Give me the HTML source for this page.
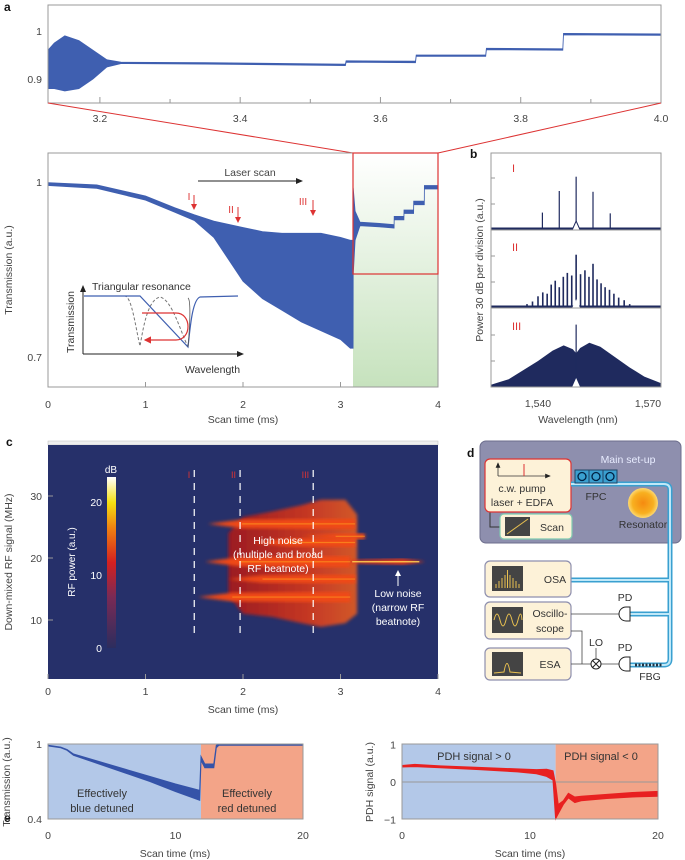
<!DOCTYPE html>
<html><head><meta charset="utf-8">
<style>
html,body{margin:0;padding:0;background:#fff;}
svg{display:block;font-family:"Liberation Sans",sans-serif;}
.t{font-size:10.5px;fill:#444;}
.ax{fill:none;stroke:#999;stroke-width:1;}
.pl{font-size:12px;font-weight:bold;fill:#111;}
</style></head>
<body>
<svg id="fig" width="685" height="860" viewBox="0 0 685 860" xmlns="http://www.w3.org/2000/svg">
<defs>
<linearGradient id="greenGrad" x1="0" y1="0" x2="0" y2="1"><stop offset="0" stop-color="#ffffff"/><stop offset="1" stop-color="#c6e2bd"/></linearGradient>
<linearGradient id="cbarGrad" x1="0" y1="1" x2="0" y2="0"><stop offset="0" stop-color="#2c2d5e"/><stop offset="0.3" stop-color="#7a2a55"/><stop offset="0.5" stop-color="#d42020"/><stop offset="0.7" stop-color="#f08010"/><stop offset="0.85" stop-color="#f5e010"/><stop offset="1" stop-color="#ffffff"/></linearGradient>
<linearGradient id="heatGrad" x1="0" y1="0" x2="1" y2="0"><stop offset="0" stop-color="#b01818"/><stop offset="0.6" stop-color="#e03818"/><stop offset="1" stop-color="#f06020"/></linearGradient>
<radialGradient id="resGrad"><stop offset="0" stop-color="#f58a10"/><stop offset="0.7" stop-color="#f8b020"/><stop offset="1" stop-color="#fdd870"/></radialGradient>
<filter id="blur"><feGaussianBlur stdDeviation="1.5"/></filter>
<marker id="arrK" markerWidth="8" markerHeight="8" refX="6" refY="3" orient="auto"><path d="M0,0 L7,3 L0,6z" fill="#222"/></marker>
<marker id="arrR" markerWidth="8" markerHeight="8" refX="5" refY="3" orient="auto"><path d="M0,0 L6,3 L0,6z" fill="#d33"/></marker>
<marker id="arrW" markerWidth="8" markerHeight="8" refX="5" refY="3" orient="auto"><path d="M0,0 L6,3 L0,6z" fill="#fff"/></marker>
</defs>

<!-- Panel a top -->
<text class="pl" x="4" y="11">a</text>
<g id="aTop"></g>
<rect class="ax" x="48" y="5" width="613" height="98"/>
<text class="t" x="42" y="35" text-anchor="end">1</text>
<text class="t" x="42" y="83" text-anchor="end">0.9</text>
<g id="aTopTicks"></g>
<line x1="48" y1="103" x2="353" y2="153" stroke="#d33" stroke-width="1"/>
<line x1="661" y1="103" x2="438" y2="153" stroke="#d33" stroke-width="1"/>

<!-- Panel a main -->
<rect x="353" y="153" width="85" height="234" fill="url(#greenGrad)"/>
<g id="aMain"></g>
<rect class="ax" x="48" y="153" width="390" height="234"/>
<rect x="353" y="153" width="85" height="121" fill="none" stroke="#d33" stroke-width="1.2"/>
<text class="t" x="42" y="186" text-anchor="end">1</text>
<text class="t" x="42" y="361" text-anchor="end">0.7</text>
<g id="aMainTicks"></g>
<text class="t" x="243" y="423" text-anchor="middle">Scan time (ms)</text>
<text class="t" transform="translate(12,270) rotate(-90)" text-anchor="middle">Transmission (a.u.)</text>
<text class="t" x="250" y="176" text-anchor="middle">Laser scan</text>
<line x1="198" y1="181" x2="302" y2="181" stroke="#222" stroke-width="1" marker-end="url(#arrK)"/>
<g><text x="189" y="200" font-size="10" fill="#d33" text-anchor="middle">I</text><line x1="194" y1="195" x2="194" y2="209" stroke="#d33" marker-end="url(#arrR)"/></g>
<g><text x="231" y="213" font-size="10" fill="#d33" text-anchor="middle">II</text><line x1="238" y1="207" x2="238" y2="222" stroke="#d33" marker-end="url(#arrR)"/></g>
<g><text x="303" y="205" font-size="10" fill="#d33" text-anchor="middle">III</text><line x1="313" y1="200" x2="313" y2="215" stroke="#d33" marker-end="url(#arrR)"/></g>
<!-- inset -->
<g>
<text x="92" y="290" font-size="10.5" fill="#333">Triangular resonance</text>
<line x1="83" y1="354" x2="243" y2="354" stroke="#222" marker-end="url(#arrK)"/>
<line x1="83" y1="354" x2="83" y2="286" stroke="#222" marker-end="url(#arrK)"/>
<text x="185" y="373" font-size="10.5" fill="#333">Wavelength</text>
<text transform="translate(74,322) rotate(-90)" font-size="10.5" fill="#333" text-anchor="middle">Transmission</text>
<path d="M84,296 L125,296 C132,297 136,330 140,346 C143,330 147,300 160,297 C172,300 180,330 188,347" fill="none" stroke="#777" stroke-dasharray="3,2" stroke-width="1"/>
<path d="M84,296 L140,296 L188,347 C190,330 192,300 200,297 L238,296" fill="none" stroke="#3f5fb0" stroke-width="1.2"/>
<path d="M188,347 C190,325 191,300 188,298" fill="none" stroke="#555" stroke-width="0.8"/>
<path d="M142,313 L176,313 C192,313 192,340 176,340 L145,340" fill="none" stroke="#d33" stroke-width="1.2" marker-end="url(#arrR)"/>
</g>

<!-- Panel b -->
<text class="pl" x="470" y="158">b</text>
<g id="bPlot"></g>
<rect class="ax" x="491" y="153" width="170" height="234"/>
<line x1="491" y1="230" x2="661" y2="230" stroke="#999"/>
<line x1="491" y1="308" x2="661" y2="308" stroke="#999"/>
<text x="512" y="172" font-size="11" fill="#d33">I</text>
<text x="512" y="251" font-size="11" fill="#d33">II</text>
<text x="512" y="330" font-size="11" fill="#d33">III</text>
<text class="t" x="538" y="407" text-anchor="middle">1,540</text>
<text class="t" x="648" y="407" text-anchor="middle">1,570</text>
<text class="t" x="578" y="423" text-anchor="middle">Wavelength (nm)</text>
<text class="t" transform="translate(483,270) rotate(-90)" text-anchor="middle">Power 30 dB per division (a.u.)</text>

<!-- Panel c -->
<text class="pl" x="6" y="446">c</text>
<rect x="48" y="441" width="390" height="4" fill="#eee" stroke="#bbb" stroke-width="0.5"/>
<rect x="48" y="445" width="390" height="234" fill="#26306a"/>
<g id="cPlot"></g>
<g id="cTicks"></g>
<text class="t" x="243" y="713" text-anchor="middle">Scan time (ms)</text>
<text class="t" transform="translate(12,562) rotate(-90)" text-anchor="middle">Down-mixed RF signal (MHz)</text>
<rect x="107" y="477" width="9" height="171" fill="url(#cbarGrad)"/>
<text x="111" y="473" font-size="10" fill="#fff" text-anchor="middle">dB</text>
<text x="102" y="506" font-size="10.5" fill="#fff" text-anchor="end">20</text>
<text x="102" y="579" font-size="10.5" fill="#fff" text-anchor="end">10</text>
<text x="102" y="652" font-size="10.5" fill="#fff" text-anchor="end">0</text>
<text transform="translate(75,562) rotate(-90)" font-size="10" fill="#fff" text-anchor="middle">RF power (a.u.)</text>
<g font-size="10.5" fill="#fff" text-anchor="middle">
<text x="278" y="544">High noise</text><text x="278" y="558">(multiple and broad</text><text x="278" y="572">RF beatnote)</text></g>
<g font-size="10.5" fill="#fff" text-anchor="middle">
<text x="398" y="597">Low noise</text><text x="398" y="611">(narrow RF</text><text x="398" y="625">beatnote)</text></g>
<line x1="398" y1="586" x2="398" y2="571" stroke="#fff" stroke-width="1" marker-end="url(#arrW)"/>

<!-- Panel d -->
<text class="pl" x="467" y="457">d</text>
<g>
<rect x="480" y="441" width="201" height="102" rx="6" fill="#8e8fae" stroke="#6c6d8c"/>
<text x="628" y="463" font-size="10.5" fill="#e8ecff" text-anchor="middle">Main set-up</text>
<path d="M490,512 L490,527 L500,527" fill="none" stroke="#333" stroke-width="1"/>
<rect x="485" y="459" width="86" height="53" rx="5" fill="#fdf2d8" stroke="#d33" stroke-width="1.2"/>
<line x1="498" y1="476" x2="550" y2="476" stroke="#333" stroke-width="0.8" marker-end="url(#arrK)"/>
<line x1="498" y1="476" x2="498" y2="463" stroke="#333" stroke-width="0.8" marker-end="url(#arrK)"/>
<line x1="524" y1="476" x2="524" y2="464" stroke="#d33" stroke-width="1"/>
<text x="522" y="492" font-size="10.5" fill="#333" text-anchor="middle">c.w. pump</text>
<text x="522" y="506" font-size="10.5" fill="#333" text-anchor="middle">laser + EDFA</text>
<rect x="500" y="514" width="72" height="25" rx="4" fill="#fdf2d8" stroke="#7fcab0" stroke-width="1.2"/>
<rect x="505" y="517" width="25" height="19" fill="#444"/>
<line x1="507" y1="534" x2="528" y2="519" stroke="#e8c050"/>
<text x="552" y="531" font-size="10.5" fill="#333" text-anchor="middle">Scan</text>
<path d="M571,484 L664,484 Q670,484 670,490 L670,659 Q670,665 664,665 L630,665 M670,580 L571,580 M670,614 L630,614" fill="none" stroke="#3aa0d0" stroke-width="5"/>
<path d="M571,484 L664,484 Q670,484 670,490 L670,659 Q670,665 664,665 L630,665 M670,580 L571,580 M670,614 L630,614" fill="none" stroke="#bfe8f8" stroke-width="2"/>
<line x1="635" y1="665" x2="662" y2="665" stroke="#234" stroke-width="3" stroke-dasharray="2,1.5"/>
<g>
<rect x="575" y="470" width="14" height="13" fill="#3aa0d0" stroke="#246"/><rect x="589" y="470" width="14" height="13" fill="#3aa0d0" stroke="#246"/><rect x="603" y="470" width="14" height="13" fill="#3aa0d0" stroke="#246"/>
<circle cx="582" cy="476.5" r="4" fill="none" stroke="#024" stroke-width="1.3"/><circle cx="596" cy="476.5" r="4" fill="none" stroke="#024" stroke-width="1.3"/><circle cx="610" cy="476.5" r="4" fill="none" stroke="#024" stroke-width="1.3"/>
</g>
<text x="596" y="500" font-size="10.5" fill="#333" text-anchor="middle">FPC</text>
<circle cx="643" cy="503" r="15" fill="url(#resGrad)"/>
<text x="643" y="528" font-size="10.5" fill="#333" text-anchor="middle">Resonator</text>
<rect x="485" y="561" width="86" height="36" rx="5" fill="#fdf2d8" stroke="#8e8fae" stroke-width="1.2"/>
<rect x="492" y="566" width="31" height="25" fill="#444"/>
<path d="M496,588 L496,584 M499,588 L499,581 M502,588 L502,578 M505,588 L505,575 M507.5,588 L507.5,570 M510,588 L510,575 M513,588 L513,578 M516,588 L516,581 M519,588 L519,584" stroke="#e8c050" stroke-width="1"/>
<text x="555" y="583" font-size="10.5" fill="#333" text-anchor="middle">OSA</text>
<rect x="485" y="602" width="86" height="37" rx="5" fill="#fdf2d8" stroke="#8e8fae" stroke-width="1.2"/>
<rect x="492" y="607" width="31" height="26" fill="#444"/>
<path d="M494,620 Q497,608 500,620 T506,620 T512,620 T518,620 T522,620" fill="none" stroke="#e8c050"/>
<text x="550" y="617" font-size="10.5" fill="#333" text-anchor="middle">Oscillo-</text>
<text x="550" y="632" font-size="10.5" fill="#333" text-anchor="middle">scope</text>
<rect x="485" y="648" width="86" height="32" rx="5" fill="#fdf2d8" stroke="#8e8fae" stroke-width="1.2"/>
<rect x="492" y="652" width="31" height="24" fill="#444"/>
<path d="M494,673 L504,672 Q507,655 510,672 L521,673" fill="none" stroke="#e8c050"/>
<text x="550" y="668" font-size="10.5" fill="#333" text-anchor="middle">ESA</text>
<path d="M571,614 L620,614 M571,631 L582,631 L582,664 M571,664 L591,664 M601,664 L620,664 M596,659 L596,648" fill="none" stroke="#444" stroke-width="0.8"/>
<g><circle cx="596" cy="664" r="5" fill="#fff" stroke="#222"/><path d="M592.5,660.5 L599.5,667.5 M599.5,660.5 L592.5,667.5" stroke="#222"/></g>
<text x="596" y="646" font-size="10.5" fill="#333" text-anchor="middle">LO</text>
<path d="M630,607 L626,607 A7,7 0 0 0 626,621 L630,621 Z" fill="#fff" stroke="#222"/>
<path d="M630,657 L626,657 A7,7 0 0 0 626,671 L630,671 Z" fill="#fff" stroke="#222"/>
<text x="625" y="601" font-size="10.5" fill="#333" text-anchor="middle">PD</text>
<text x="625" y="651" font-size="10.5" fill="#333" text-anchor="middle">PD</text>
<text x="650" y="680" font-size="10.5" fill="#333" text-anchor="middle">FBG</text>
</g>

<!-- Panel e -->
<text class="pl" x="4" y="822">e</text>
<g id="eLeft"></g>
<g id="eRight"></g>
<text class="t" transform="translate(10,782) rotate(-90)" text-anchor="middle" font-size="10">Transmission (a.u.)</text>
<text class="t" transform="translate(373,782) rotate(-90)" text-anchor="middle" font-size="10">PDH signal (a.u.)</text>
<text class="t" x="175" y="857" text-anchor="middle">Scan time (ms)</text>
<text class="t" x="530" y="857" text-anchor="middle">Scan time (ms)</text>
</svg>
<script>
// ---------- data ----------
const zoomT     = [3.126,3.135,3.15,3.17,3.19,3.21,3.23,3.35,3.55,3.551,3.65,3.651,3.75,3.751,3.86,3.861,4.0];
const zoomUpper = [0.96,0.975,0.99,0.98,0.96,0.94,0.935,0.934,0.931,0.938,0.937,0.950,0.950,0.964,0.963,0.995,0.994];
const zoomLower = [0.88,0.88,0.875,0.88,0.9,0.925,0.932,0.931,0.928,0.935,0.934,0.947,0.947,0.961,0.960,0.992,0.991];
const zoomTicks = [3.2,3.4,3.6,3.8,4.0];
const mainT     = [0,0.5,1.0,1.3,1.5,1.7,2.0,2.2,2.4,2.6,2.8,3.0,3.1,3.129,3.13,3.15,3.2,3.4,3.55,3.551,3.65,3.651,3.75,3.751,3.86,3.861,4.0];
const mainUpper = [0.999,0.995,0.976,0.956,0.944,0.933,0.922,0.915,0.912,0.912,0.912,0.905,0.9,0.9,0.99,0.95,0.931,0.929,0.927,0.941,0.941,0.952,0.952,0.967,0.967,0.994,0.994];
const mainLower = [0.994,0.989,0.969,0.948,0.934,0.905,0.83,0.8,0.78,0.76,0.745,0.73,0.715,0.715,0.84,0.9,0.925,0.923,0.921,0.935,0.935,0.946,0.946,0.961,0.961,0.988,0.988];
const mainTicks = [0,1,2,3,4];
const specIWl = [1541.2,1545.8,1550.4,1555.0,1559.7];
const specIH  = [0.67,1.5,2.05,1.47,0.64];
const specIIWl = [1537,1538.5,1540,1541.3,1542.5,1543.6,1544.7,1545.8,1546.9,1548,1549.2,1550.4,1551.6,1552.8,1553.9,1555,1556.1,1557.2,1558.3,1559.5,1560.7,1562,1563.5,1565];
const specIIH  = [0.15,0.25,0.45,0.6,0.55,0.9,1.05,0.8,1.2,1.35,1.25,2.05,1.3,1.45,1.2,1.7,1.1,0.95,0.8,0.7,0.55,0.4,0.3,0.15];
const specIIIWl = [1527.5,1532,1536,1540,1544,1547,1549.5,1550.4,1551.5,1554,1557,1561,1565,1569,1573.5];
const specIIIH  = [0.1,0.3,0.65,1.0,1.4,1.6,1.45,1.3,1.5,1.7,1.55,1.15,0.75,0.4,0.15];
const specIIIPeak = 2.4;
const pumpWl = 1550.4;
const bandFreq  = [25.5,19.4,13.7,16.6,22.5,23.5];
const bandStart = [1.64,1.61,1.54,1.85,2.1,2.6];
const bandEnd   = [3.15,3.1,3.1,3.15,3.15,3.25];
const bandWidth = [1.4,1.5,1.4,1.2,1.2,0.8];
const noiseT    = [1.85,2.0,2.3,2.6,2.8,3.05,3.17];
const noiseHigh = [24,26.6,27.5,28.5,29.4,29.4,27];
const noiseLow  = [14,11,10.5,9.5,8.9,9.5,11];
const lowNoiseFreq = 19.4, lowNoiseStart = 3.12, lowNoiseEnd = 3.87, lowNoiseBright = 3.64;
const dashTimes = [1.5,1.97,2.72];
const dashLabels = ['I','II','III'];
const cXTicks = [0,1,2,3,4];
const cYTicks = [10,20,30];
const eSplit = 12;
const eLT     = [0,1,1.5,2,4,6,8,10,11.9,12,12.3,13,13.2,13.4,20];
const eLUpper = [0.99,0.975,0.955,0.92,0.86,0.8,0.74,0.68,0.63,0.9,0.84,0.84,0.99,1.0,1.0];
const eLLower = [0.985,0.97,0.95,0.91,0.84,0.77,0.7,0.62,0.55,0.87,0.81,0.81,0.97,0.99,0.99];
const eRT     = [0,1,3,6,9,10.5,11.3,11.8,12,12.2,12.6,13,13.5,14,16,18,20];
const eRUpper = [0.44,0.47,0.43,0.39,0.35,0.33,0.34,0.3,-0.05,-0.6,-0.5,-0.3,-0.4,-0.38,-0.33,-0.28,-0.25];
const eRLower = [0.4,0.41,0.38,0.33,0.27,0.22,0.15,0.05,-0.98,-0.85,-0.6,-0.42,-0.55,-0.5,-0.44,-0.4,-0.38];
const eXTicks = [0,10,20];

const NS='http://www.w3.org/2000/svg';
function mk(parent, tag, attrs){const e=document.createElementNS(NS,tag);for(const k in attrs)e.setAttribute(k,attrs[k]);parent.appendChild(e);return e;}
function band(xs, up, lo, fx, fy){let p=[];for(let i=0;i<xs.length;i++)p.push(fx(xs[i]).toFixed(1)+','+fy(up[i]).toFixed(1));for(let i=xs.length-1;i>=0;i--)p.push(fx(xs[i]).toFixed(1)+','+fy(lo[i]).toFixed(1));return p.join(' ');}

const xT=t=>48+(t-3.126)/(4-3.126)*613, yT=v=>31+(1-v)*480;
const xA=t=>48+t/4*390, yA=v=>182+(1-v)*583.33;
const xB=w=>538+(w-1540)*3.667;
const bBase=[230,308,387];
const yB=(i,d)=>bBase[i]-d*26;
const xC=t=>48+t*97.5, yC=f=>682-f*6.2;
const xE1=t=>48+t/20*255, yE1=v=>744+(1-v)*125;
const xE2=t=>402+t/20*256, yE2=v=>782-v*37.5;

const gT=document.getElementById('aTop');
let e=mk(gT,'polygon',{points:band(zoomT,zoomUpper,zoomLower,xT,yT),fill:'#3f5fb0',stroke:'#3f5fb0','stroke-width':0.8});


const gTT=document.getElementById('aTopTicks');
zoomTicks.forEach(t=>{
  let l=mk(gTT,'line',{x1:xT(t),x2:xT(t),y1:103,y2:97,stroke:'#999'});
  
  
  let s=mk(gTT,'text',{x:xT(t),y:122,'text-anchor':'middle',class:'t'});s.textContent=t.toFixed(1);
  
  
});
[3.3,3.5,3.7,3.9].forEach(t=>{let l=mk(gTT,'line',{x1:xT(t),x2:xT(t),y1:103,y2:99,stroke:'#999'});
  
  });

const gA=document.getElementById('aMain');
e=mk(gA,'polygon',{points:band(mainT,mainUpper,mainLower,xA,yA),fill:'#3f5fb0',stroke:'#3f5fb0','stroke-width':0.8});


const gAT=document.getElementById('aMainTicks');
mainTicks.forEach(t=>{
  let l=mk(gAT,'line',{x1:xA(t),x2:xA(t),y1:387,y2:382,stroke:'#999'});
  
  
  let s=mk(gAT,'text',{x:xA(t),y:408,'text-anchor':'middle',class:'t'});s.textContent=t;
  
  
});

const gB=document.getElementById('bPlot');
for(let i=0;i<3;i++){
  let b=mk(gB,'rect',{x:491,y:bBase[i]-2.5,width:170,height:2.5,fill:'#1f2a5e'});
  
  
  for(let k=1;k<=2;k++){let tk=mk(gB,'line',{x1:491,x2:495,y1:yB(i,k),y2:yB(i,k),stroke:'#999'});
    
    }
}
specIWl.forEach((w,i)=>{let l=mk(gB,'line',{x1:xB(w),x2:xB(w),y1:yB(0,0),y2:yB(0,specIH[i]),stroke:'#1f2a5e','stroke-width':1.2});
  
  });
specIIWl.forEach((w,i)=>{let l=mk(gB,'line',{x1:xB(w),x2:xB(w),y1:yB(1,0),y2:yB(1,specIIH[i]),stroke:'#1f2a5e','stroke-width':1.6});
  
  });
{let p=[xB(specIIIWl[0])+','+yB(2,0)];specIIIWl.forEach((w,i)=>p.push(xB(w)+','+yB(2,specIIIH[i])));p.push(xB(specIIIWl[specIIIWl.length-1])+','+yB(2,0));
 let s=mk(gB,'polygon',{points:p.join(' '),fill:'#1f2a5e'});
 
 
 let l=mk(gB,'line',{x1:xB(pumpWl),x2:xB(pumpWl),y1:yB(2,0),y2:yB(2,specIIIPeak),stroke:'#1f2a5e','stroke-width':1.2});
 
 }
for(let i=0;i<3;i++){let h=mk(gB,'path',{d:`M${xB(pumpWl)-4},${bBase[i]} L${xB(pumpWl)},${bBase[i]-9} L${xB(pumpWl)+4},${bBase[i]}Z`,fill:'#fff',stroke:'#1f2a5e','stroke-width':i==0?1:0});
  
  }

const gC=document.getElementById('cPlot');
{let p=[];noiseT.forEach((t,i)=>p.push(xC(t)+','+yC(noiseHigh[i])));for(let i=noiseT.length-1;i>=0;i--)p.push(xC(noiseT[i])+','+yC(noiseLow[i]));
 let n=mk(gC,'polygon',{points:p.join(' '),fill:'url(#heatGrad)',opacity:0.85,filter:'url(#blur)'});
 
 }
bandFreq.forEach((f,i)=>{
  const x0=xC(bandStart[i]),x1=xC(bandStart[i]+0.35),x2=xC(bandEnd[i]);
  const w=bandWidth[i]*6.2;
  let b=mk(gC,'polygon',{points:`${x0},${yC(f)} ${x1},${yC(f)-w*0.5} ${x2},${yC(f)-w*0.6} ${x2},${yC(f)+w*0.6} ${x1},${yC(f)+w*0.5}`,fill:'#f04818',filter:'url(#blur)'});
  
  
  let c=mk(gC,'line',{x1:x1,x2:x2,y1:yC(f),y2:yC(f),stroke:'#ffa020','stroke-width':1.2,opacity:0.6});
  
  
});
{let l=mk(gC,'polygon',{points:`${xC(lowNoiseStart)},${yC(lowNoiseFreq)-1.5} ${xC(lowNoiseBright)},${yC(lowNoiseFreq)-3} ${xC(lowNoiseEnd)},${yC(lowNoiseFreq)} ${xC(lowNoiseBright)},${yC(lowNoiseFreq)+3} ${xC(lowNoiseStart)},${yC(lowNoiseFreq)+1.5}`,fill:'#e83818',filter:'url(#blur)'});
 
 
 let c=mk(gC,'line',{x1:xC(lowNoiseStart),x2:xC(lowNoiseEnd)-6,y1:yC(lowNoiseFreq),y2:yC(lowNoiseFreq),stroke:'#ffd050','stroke-width':1.2});
 
 }
dashTimes.forEach((t,i)=>{
  let d=mk(gC,'line',{x1:xC(t),x2:xC(t),y1:470,y2:634,stroke:'#fff','stroke-width':1.2,'stroke-dasharray':'7,6'});
  
  
  let s=mk(gC,'text',{x:xC(t)-4,y:478,'text-anchor':'end','font-size':9,fill:'#d33'});s.textContent=dashLabels[i];
  
  
});
const gCT=document.getElementById('cTicks');
cXTicks.forEach(t=>{let l=mk(gCT,'line',{x1:xC(t),x2:xC(t),y1:679,y2:674,stroke:'#999'});
  
  
  let s=mk(gCT,'text',{x:xC(t),y:695,'text-anchor':'middle',class:'t'});s.textContent=t;
  
  });
cYTicks.forEach(f=>{let l=mk(gCT,'line',{x1:48,x2:53,y1:yC(f),y2:yC(f),stroke:'#999'});
  
  
  let s=mk(gCT,'text',{x:42,y:yC(f)+4,'text-anchor':'end',class:'t'});s.textContent=f;
  
  });

const gEL=document.getElementById('eLeft');
e=mk(gEL,'rect',{x:xE1(0),y:744,width:xE1(eSplit)-xE1(0),height:75,fill:'#b3c8e8'});


e=mk(gEL,'rect',{x:xE1(eSplit),y:744,width:xE1(20)-xE1(eSplit),height:75,fill:'#f3a488'});


e=mk(gEL,'polygon',{points:band(eLT,eLUpper,eLLower,xE1,yE1),fill:'#3553a8',stroke:'#3553a8','stroke-width':1});


e=mk(gEL,'rect',{x:48,y:744,width:255,height:75,fill:'none',stroke:'#999'});


[['1',1],['0.4',0.4]].forEach(([s,v])=>{let t=mk(gEL,'text',{x:42,y:yE1(v)+4,'text-anchor':'end',class:'t'});t.textContent=s;
  
  });
eXTicks.forEach(t=>{let s=mk(gEL,'text',{x:xE1(t),y:839,'text-anchor':'middle',class:'t'});s.textContent=t;
  
  });
[['Effectively',797],['blue detuned',812]].forEach(([s,y])=>{let t=mk(gEL,'text',{x:102,y:y,'text-anchor':'middle','font-size':11,fill:'#333'});t.textContent=s;
  
  });
[['Effectively',797],['red detuned',812]].forEach(([s,y])=>{let t=mk(gEL,'text',{x:247,y:y,'text-anchor':'middle','font-size':11,fill:'#333'});t.textContent=s;
  
  });

const gER=document.getElementById('eRight');
e=mk(gER,'rect',{x:xE2(0),y:744,width:xE2(eSplit)-xE2(0),height:75,fill:'#b3c8e8'});


e=mk(gER,'rect',{x:xE2(eSplit),y:744,width:xE2(20)-xE2(eSplit),height:75,fill:'#f3a488'});


e=mk(gER,'line',{x1:402,x2:658,y1:yE2(0),y2:yE2(0),stroke:'#999'});


e=mk(gER,'polygon',{points:band(eRT,eRUpper,eRLower,xE2,yE2),fill:'#e82020',stroke:'#e82020','stroke-width':1});


e=mk(gER,'rect',{x:402,y:744,width:256,height:75,fill:'none',stroke:'#999'});


[['1',1],['0',0],['\u22121',-1]].forEach(([s,v])=>{let t=mk(gER,'text',{x:396,y:yE2(v)+4,'text-anchor':'end',class:'t'});t.textContent=s;
  
  });
eXTicks.forEach(t=>{let s=mk(gER,'text',{x:xE2(t),y:839,'text-anchor':'middle',class:'t'});s.textContent=t;
  
  });
e=mk(gER,'text',{x:474,y:760,'text-anchor':'middle','font-size':11,fill:'#333'});e.textContent='PDH signal > 0';


e=mk(gER,'text',{x:601,y:760,'text-anchor':'middle','font-size':11,fill:'#333'});e.textContent='PDH signal < 0';


</script>
</body></html>
